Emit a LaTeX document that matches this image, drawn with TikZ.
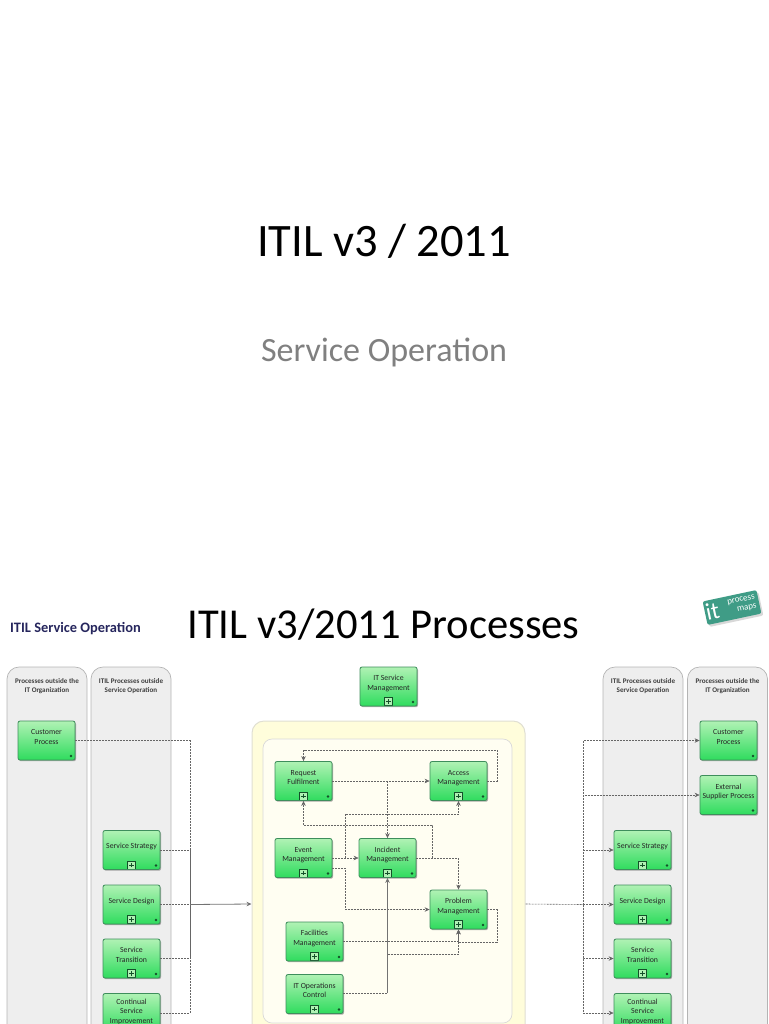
\documentclass[tikz,border=0pt]{standalone}
\usepackage{fontspec}
\setmainfont{Carlito}
\usetikzlibrary{shadows,arrows.meta}
\definecolor{boxedge}{HTML}{3E8E5C}
\definecolor{boxtop}{HTML}{B0F2B4}
\definecolor{boxbot}{HTML}{2FDC5E}
\definecolor{boxink}{HTML}{14502A}
\definecolor{laneedge}{HTML}{B4B4B4}
\definecolor{lanefill}{HTML}{EEEEEE}
\definecolor{logoteal}{HTML}{3F9C86}
\newcommand{\tl}{\\[-2pt]\mbox{}}
\newcommand{\tls}{\\[-5.4pt]\mbox{}}
\tikzset{
  processbox/.style={rectangle, rounded corners=2pt, draw=boxedge, thick, top color=boxtop, bottom color=boxbot,
    minimum width=57pt, minimum height=39pt, inner sep=0pt, align=center, font=\fontsize{7.8}{9.4}\selectfont, text=black!85,
    drop shadow={shadow xshift=1pt, shadow yshift=-1.2pt, fill=black!55, opacity=.6},
    path picture={\fill[boxink] ([xshift=-4pt,yshift=4pt]path picture bounding box.south east) circle (1.3pt);}},
  subprocess/.style={processbox,
    path picture={\fill[boxink] ([xshift=-4pt,yshift=4pt]path picture bounding box.south east) circle (1.3pt);
      \draw[boxink, line width=0.7pt, fill=boxtop, sharp corners] ([xshift=-4pt,yshift=0.6pt]path picture bounding box.south) rectangle ([xshift=4pt,yshift=8.6pt]path picture bounding box.south);
      \draw[boxink, line width=0.6pt, sharp corners] ([xshift=-2.2pt,yshift=4.6pt]path picture bounding box.south) -- ([xshift=2.2pt,yshift=4.6pt]path picture bounding box.south);
      \draw[boxink, line width=0.6pt, sharp corners] ([xshift=0pt,yshift=2.4pt]path picture bounding box.south) -- ([xshift=0pt,yshift=6.8pt]path picture bounding box.south);}},
  lane/.style={rectangle, rounded corners=12pt, draw=laneedge, fill=lanefill, line width=0.7pt, minimum width=80pt, minimum height=420pt, inner sep=0pt},
  lanehead/.style={align=center, inner sep=0pt, font=\fontsize{7.1}{9}\selectfont\bfseries, text=black!75},
  flow/.style={draw=black!60, line width=0.6pt, dash pattern=on 2pt off 1pt, >={Stealth[length=5pt,width=4.5pt]}},
  solidflow/.style={draw=black!55, line width=0.8pt, >={Stealth[length=5pt,width=4.5pt]}},
}
\begin{document}
\begin{tikzpicture}[x=1pt,y=-1pt]
\clip (0,0) rectangle (768,1024);
% title slide
\node (slidetitle) at (384,241) [font=\fontsize{46.5}{50}\selectfont] {ITIL v3 / 2011};
\node (slidesub) at (384,352) [font=\fontsize{34}{38}\selectfont, text=black!50] {Service Operation};
\node (pagetitle) at (383.5,625) [font=\fontsize{42.6}{46}\selectfont] {ITIL v3/2011 Processes};
\node (pagetag) at (75.5,628.5) [font=\fontsize{14.4}{16}\selectfont\bfseries, text=blue!25!black!85] {ITIL Service Operation};
% logo
\node (logo) at (732,607.5) [rotate=12, rectangle, rounded corners=2pt, fill=logoteal, minimum width=55pt, minimum height=24pt, drop shadow={shadow xshift=2pt, shadow yshift=-2pt, fill=black!30}] {};
\node (logoit) at (712.5,611) [rotate=12, text=white, inner sep=0pt, font=\fontsize{24}{24}\selectfont] {it};
\node (logotext) at (742,604.5) [rotate=12, text=white, inner sep=0pt, align=right, font=\fontsize{9}{9}\selectfont] {process\\maps};
% lanes
\node (laneA) at (47,877) [lane] {};
\node (laneB) at (131,877) [lane] {};
\node (laneC) at (643,877) [lane] {};
\node (laneD) at (727.5,877) [lane] {};
\node (headA) at (47,686.5) [lanehead] {Processes outside the\\IT Organization};
\node (headB) at (131,686.5) [lanehead] {ITIL Processes outside\\Service Operation};
\node (headC) at (643,686.5) [lanehead] {ITIL Processes outside\\Service Operation};
\node (headD) at (727.5,686.5) [lanehead] {Processes outside the\\IT Organization};
% yellow area
\node (outer) at (388.5,904) [rectangle, rounded corners=12pt, draw=yellow!30!black!20, fill=yellow!14, line width=1pt, minimum width=273pt, minimum height=366pt] {};
\node (inner) at (387.5,881) [rectangle, rounded corners=9pt, draw=black!15, fill=yellow!5, line width=0.7pt, minimum width=249pt, minimum height=284pt] {};
% process boxes
\node (custL) at (46.5,740.5) [processbox] {Customer\\Process\tl};
\node (stratL) at (131.5,850) [subprocess] {Service Strategy\tl};
\node (designL) at (131.5,904.5) [subprocess] {Service Design\tl};
\node (transL) at (131.5,958.5) [subprocess] {Service\\Transition\tl};
\node (improveL) at (131.5,1013) [subprocess] {Continual\\Service\\Improvement\tls};
\node (itsm) at (388.5,686.5) [subprocess] {IT Service\\Management\tl};
\node (request) at (303.5,781) [subprocess] {Request\\Fulfilment\tl};
\node (access) at (458.5,781) [subprocess] {Access\\Management\tl};
\node (event) at (303.5,858) [subprocess] {Event\\Management\tl};
\node (incident) at (387.5,858) [subprocess] {Incident\\Management\tl};
\node (problem) at (458.5,909.5) [subprocess] {Problem\\Management\tl};
\node (facilities) at (314.5,941.5) [subprocess] {Facilities\\Management\tl};
\node (opsctl) at (314.5,994) [subprocess] {IT Operations\\Control\tl};
\node (custR) at (728.5,740.5) [processbox] {Customer\\Process\tl};
\node (external) at (728.5,795) [processbox] {External\\Supplier Process\tl};
\node (stratR) at (642.5,850) [subprocess] {Service Strategy\tl};
\node (designR) at (642.5,904.5) [subprocess] {Service Design\tl};
\node (transR) at (642.5,958.5) [subprocess] {Service\\Transition\tl};
\node (improveR) at (642.5,1013) [subprocess] {Continual\\Service\\Improvement\tls};
% junctions
\coordinate (joinL) at (190,904.5);
\coordinate (joinR) at (583,904.5);
\coordinate (topRun) at (497,750);
\coordinate (reqSplit) at (387.5,781);
\coordinate (accessRun) at (345,814);
\coordinate (reqRun) at (432,825);
\coordinate (evtTap) at (345,858);
\coordinate (evtLow) at (332,868);
\coordinate (evtProb) at (345,909.5);
\coordinate (incTap) at (432,858);
\coordinate (probBack) at (497,942);
\coordinate (probIn) at (458.5,942);
\coordinate (opsTap) at (387.5,954);
\coordinate (opsBend) at (387.5,993);
\coordinate (opsOut) at (343,993);
% left side
\draw[flow] (custL.east) -| (joinL);
\draw[flow] (stratL.east) -| (joinL);
\draw[flow] (designL.east) -- (joinL);
\draw[flow] (transL.east) -| (joinL);
\draw[flow] (improveL.east) -| (joinL);
\draw[solidflow,->] (joinL) -- (outer.west);
% right side
\draw[flow] (outer.east) -- (joinR);
\draw[flow,->] (joinR) |- (custR.west);
\draw[flow,->] (joinR) |- (external.west);
\draw[flow,->] (joinR) |- (stratR.west);
\draw[flow,->] (joinR) -- (designR.west);
\draw[flow,->] (joinR) |- (transR.west);
\draw[flow,->] (joinR) |- (improveR.west);
% inside
\draw[flow,->] (request.east) -- (access.west);
\draw[flow,->] (reqSplit) -- (incident.north);
\draw[flow,->] (access.east) -| (topRun) -| (request.north);
\draw[flow,->] (evtTap) |- (accessRun) -| (access.south);
\draw[flow,->] (incTap) |- (reqRun) -| (request.south);
\draw[flow,->] (event.east) -- (incident.west);
\draw[flow,->] (evtLow) -| (evtProb) -- (problem.west);
\draw[flow,->] (incident.east) -| (problem.north);
\draw[flow] (problem.east) -| (probBack) -- (probIn);
\draw[flow,->] (facilities.east) -| (problem.south);
\draw[flow,->] (opsTap) -| (problem.south);
\draw[flow] (opsOut) -- (opsBend);
\draw[solidflow,->] (opsBend) -- (incident.south);
\end{tikzpicture}
\end{document}
